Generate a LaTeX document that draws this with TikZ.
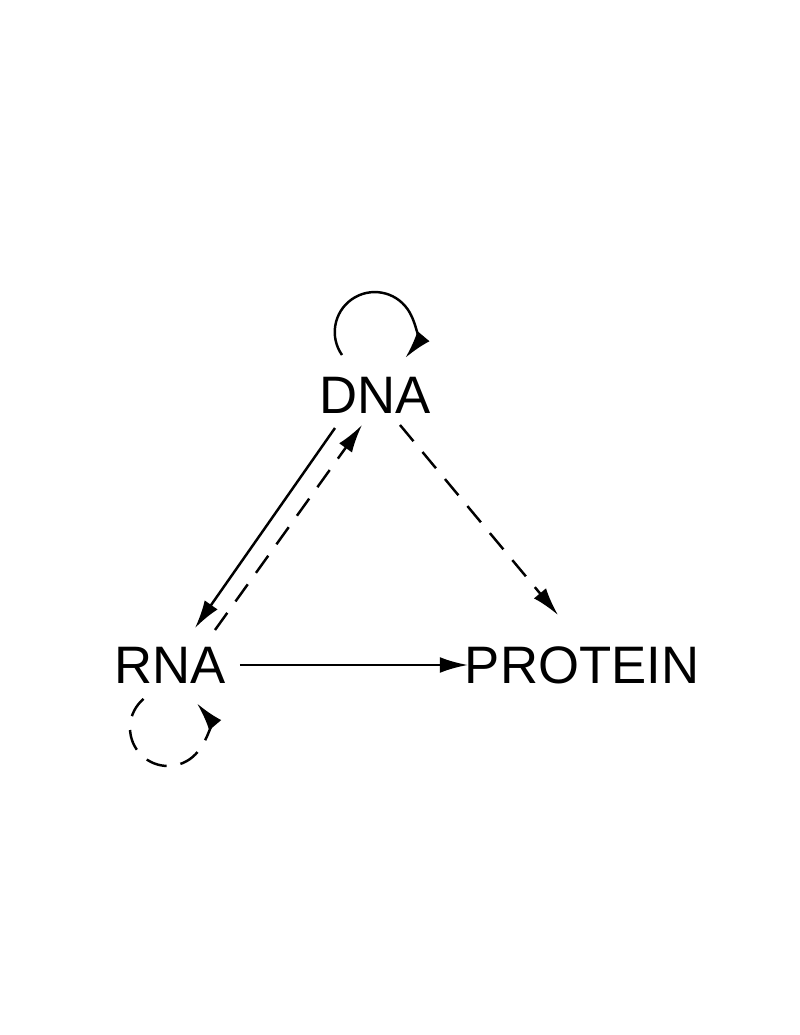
\documentclass[tikz,border=0pt]{standalone}
\usepackage{fontspec}
\setmainfont{Liberation Sans}
\usetikzlibrary{arrows.meta}
\begin{document}
\begin{tikzpicture}[
  lbl/.style={font=\fontsize{15}{15}\selectfont, inner sep=0pt},
  arr/.style={line width=0.7pt, -{Latex[length=8pt,width=4.5pt]}},
  dsh/.style={arr, dash pattern=on 6pt off 4pt}]
\useasboundingbox (0,0) rectangle (8,10.35);
\node[lbl] (dna) at (3.75,6.40) {DNA};
\node[lbl] (rna) at (1.70,3.70) {RNA};
\node[lbl] (pro) at (5.82,3.70) {PROTEIN};
\coordinate (d1) at (3.35,6.07);
\coordinate (r1) at (1.95,4.07);
\coordinate (r2) at (2.15,4.05);
\coordinate (d2) at (3.62,6.10);
\coordinate (d3) at (4.00,6.10);
\coordinate (p1) at (5.58,4.20);
\coordinate (r3) at (2.40,3.70);
\coordinate (p2) at (4.68,3.70);
\draw[arr] (d1) -- (r1);
\draw[dsh] (r2) -- (d2);
\draw[dsh] (d3) -- (p1);
\draw[arr] (r3) -- (p2);
\draw[arr] (3.42,6.80) arc[start angle=215, end angle=-40, radius=0.40];
\draw[dsh] (1.436,3.361) arc[start angle=130, end angle=400, radius=0.38];
\end{tikzpicture}
\end{document}
